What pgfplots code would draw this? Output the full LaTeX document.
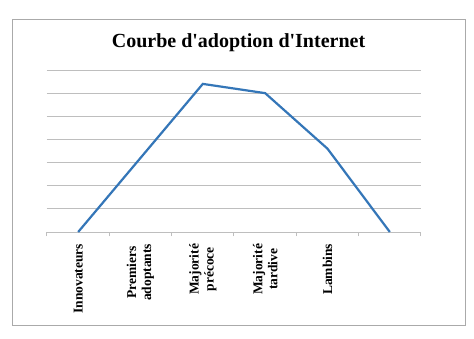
\documentclass[border=0pt]{standalone}
\usepackage{pgfplots}
\pgfplotsset{compat=1.18}
\usepackage{fontspec}
\setmainfont{Liberation Serif}
\definecolor{gridgray}{RGB}{190,190,190}
\definecolor{framegray}{RGB}{170,170,170}
\definecolor{lineblue}{RGB}{52,118,184}
\begin{document}
\begin{tikzpicture}[x=1pt,y=1pt]
\path[fill=white] (0,0) rectangle (474,338);
\draw[framegray,line width=1pt] (12,13) rectangle (465,318);
\node[font=\bfseries\fontsize{20}{23}\selectfont] at (238.5,295.5) {Courbe d\textquotesingle adoption d\textquotesingle Internet};
\begin{axis}[
  at={(47pt,106pt)}, anchor=south west,
  scale only axis, width=374pt, height=162pt,
  xmin=-0.5, xmax=5.5, ymin=0, ymax=7,
  axis line style={draw=none},
  axis x line*=bottom,
  ytick={1,...,7}, yticklabels={},
  ymajorgrids, major grid style={gridgray, line width=1pt},
  major y tick style={draw=none},
  xtick={0,...,5},
  xticklabels={Innovateurs,{Premiers\\adoptants},{Majorité\\précoce},{Majorité\\tardive},Lambins,{}},
  major x tick style={draw=none},
  minor xtick={-0.5,0.5,...,5.5},
  minor x tick style={gridgray, line width=1pt},
  minor tick length=4pt, tick align=outside,
  xticklabel style={rotate=90, anchor=east, align=center, font=\bfseries\fontsize{13.5}{15}\selectfont, xshift=-4pt},
  clip=false,
]
\draw[gridgray, line width=1pt] (axis cs:-0.5,0) -- (axis cs:5.5,0);
\addplot[lineblue, line width=2.2pt, mark=none] coordinates {
(0,0) (1,3.2) (2,6.4) (3,6.0) (4,3.6) (5,0)};
\end{axis}
\end{tikzpicture}
\end{document}
